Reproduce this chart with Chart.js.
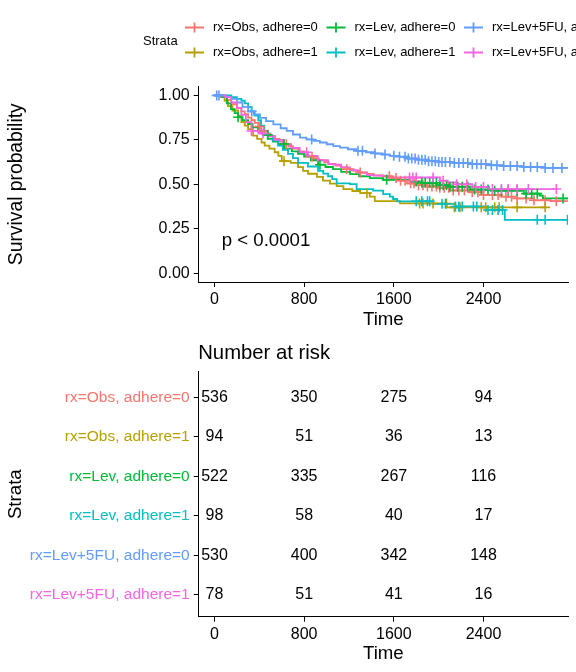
<!DOCTYPE html>
<html><head><meta charset="utf-8">
<script src="https://cdn.jsdelivr.net/npm/chart.js@4"></script>
<style>
html,body{margin:0;padding:0;background:#fff;overflow:hidden;width:576px;height:672px}
#top{position:absolute;left:0;top:0;width:576px;height:335px}
#bot{position:absolute;left:0;top:335px;width:576px;height:337px}
</style></head><body>
<div id="top"><canvas id="c1"></canvas></div>
<div id="bot"><canvas id="c2"></canvas></div>
<script>
// ---------- data ----------
const strata = ['rx=Obs, adhere=0','rx=Obs, adhere=1','rx=Lev, adhere=0','rx=Lev, adhere=1','rx=Lev+5FU, adhere=0','rx=Lev+5FU, adhere=1'];
const colors = ['#F8766D','#B79F00','#00BA38','#00BFC4','#619CFF','#F564E3'];

const obs0Time = [0,60,110,150,200,240,270,300,330,360,390,415,450,500,540,580,620,660,700,750,800,840,880,930,980,1020,1080,1130,1180,1240,1300,1360,1420,1500,1580,1660,1720,1800,1900,1990,2100,2280,2400,2550,2700,2850,3000];
const obs0Surv = [1,0.99,0.975,0.95,0.93,0.91,0.895,0.875,0.86,0.845,0.825,0.80,0.785,0.77,0.755,0.74,0.725,0.715,0.70,0.685,0.665,0.655,0.645,0.635,0.625,0.615,0.605,0.595,0.585,0.575,0.566,0.558,0.55,0.545,0.535,0.52,0.505,0.495,0.488,0.48,0.465,0.455,0.44,0.43,0.42,0.41,0.405];
const obs0Cens = [400,440,640,870,1180,1300,1560,1620,1660,1700,1750,1780,1820,1860,1900,1940,1980,2010,2050,2090,2130,2180,2230,2300,2350,2400,2480,2530,2600,2650,2700,2780,2850,2950,3050];
const obs0End = 3329;

const obs1Time = [0,60,90,120,160,210,240,270,300,344,380,420,448,490,537,570,600,680,745,790,834,914,968,1030,1090,1150,1230,1300,1385,1430,1655,2072];
const obs1Surv = [1,0.99,0.97,0.94,0.915,0.886,0.85,0.83,0.81,0.774,0.755,0.735,0.717,0.70,0.68,0.66,0.63,0.62,0.596,0.575,0.559,0.542,0.52,0.503,0.49,0.473,0.462,0.45,0.43,0.405,0.392,0.37];
const obs1Cens = [620,1360,1830,1860,1950,2070,2140,2190,2380,2420,2500,2540,2700,2950];
const obs1End = 2950;

const lev0Time = [0,70,110,147,180,210,250,300,340,388,430,477,520,567,626,690,745,800,860,924,990,1057,1130,1209,1290,1387,1506,1745,1850,1982,2072,2280,2500,2760,2900,2930];
const lev0Surv = [1,0.99,0.955,0.923,0.90,0.877,0.86,0.839,0.82,0.80,0.778,0.755,0.74,0.727,0.70,0.685,0.671,0.655,0.635,0.61,0.597,0.585,0.57,0.557,0.545,0.535,0.525,0.515,0.508,0.495,0.486,0.47,0.464,0.447,0.436,0.42];
const lev0Cens = [210,474,620,941,1536,1800,1850,1880,1920,1950,1980,2010,2040,2070,2100,2130,2170,2210,2260,2320,2380,2440,2500,2560,2620,2700,2780,2830,2880,3110];
const lev0End = 3329;

const lev1Time = [0,150,200,240,270,300,330,358,390,415,445,477,520,567,610,656,700,745,834,924,970,1013,1050,1090,1209,1268,1415,1505,1565,1593,1630,1950,2150,2420,2590];
const lev1Surv = [1,0.99,0.98,0.97,0.955,0.934,0.91,0.886,0.86,0.83,0.80,0.774,0.745,0.717,0.694,0.671,0.647,0.62,0.60,0.575,0.56,0.545,0.529,0.505,0.501,0.473,0.464,0.445,0.43,0.417,0.404,0.39,0.375,0.355,0.30];
const lev1Cens = [1800,1850,1900,1920,2030,2060,2150,2180,2210,2310,2340,2440,2480,2530,2570,2880,2950,3150];
const lev1End = 3329;

const fu0Time = [0,100,150,200,250,300,350,406,460,525,590,644,700,763,820,882,940,1001,1060,1120,1190,1268,1350,1430,1500,1566,1650,1720,1800,1900,2000,2130,2300,2450,2574,2750,2950];
const fu0Surv = [1,0.99,0.98,0.96,0.935,0.91,0.893,0.874,0.855,0.837,0.815,0.80,0.78,0.762,0.752,0.744,0.735,0.725,0.715,0.706,0.697,0.688,0.68,0.673,0.667,0.66,0.655,0.645,0.638,0.63,0.625,0.62,0.613,0.607,0.602,0.597,0.592];
const fu0Cens = [20,40,332,867,1280,1320,1432,1521,1600,1650,1700,1730,1760,1790,1820,1850,1880,1910,1940,1970,2000,2030,2060,2100,2140,2180,2220,2260,2300,2340,2380,2420,2470,2520,2580,2640,2700,2760,2820,2880,2950,3020,3100];
const fu0End = 3329;

const fu1Time = [0,95,150,200,240,280,330,388,433,480,537,610,683,760,834,920,1013,1057,1130,1209,1280,1358,1420,1536,2012,2080,2160,2300,2450];
const fu1Surv = [1,0.99,0.96,0.93,0.89,0.85,0.80,0.79,0.785,0.77,0.75,0.725,0.705,0.68,0.66,0.635,0.615,0.61,0.595,0.58,0.565,0.551,0.548,0.538,0.52,0.51,0.50,0.485,0.473];
const fu1Cens = [330,433,822,1740,1770,1800,1950,2040,2160,2250,2330,2400,2480,2560,2620,2700,2800,3050];
const fu1End = 3056;

const xTicks = [0,800,1600,2400,3200];
const yTicks = [0,0.25,0.5,0.75,1];
const riskTimes = [0,800,1600,2400,3200];
const riskObs0 = [536,350,275,94,1];
const riskObs1 = [94,51,36,13,0];
const riskLev0 = [522,335,267,116,2];
const riskLev1 = [98,58,40,17,2];
const riskFu0 = [530,400,342,148,0];
const riskFu1 = [78,51,41,16,0];
const pText = 'p < 0.0001';

// ---------- helpers ----------
const FONT = '"Liberation Sans", Arial, sans-serif';
Chart.defaults.font.family = FONT;
Chart.defaults.color = '#000';
const curves = [
  [obs0Time,obs0Surv,obs0Cens,obs0End],
  [obs1Time,obs1Surv,obs1Cens,obs1End],
  [lev0Time,lev0Surv,lev0Cens,lev0End],
  [lev1Time,lev1Surv,lev1Cens,lev1End],
  [fu0Time,fu0Surv,fu0Cens,fu0End],
  [fu1Time,fu1Surv,fu1Cens,fu1End]
];
const riskRows = [riskObs0,riskObs1,riskLev0,riskLev1,riskFu0,riskFu1];
function survAt(times, surv, t){ let v = surv[0]; for(let i=0;i<times.length;i++){ if(times[i]<=t) v = surv[i]; } return v; }

const datasets = [];
curves.forEach(([tm,sv,cs,end],i)=>{
  const pts = tm.map((t,k)=>({x:t,y:sv[k]}));
  pts.push({x:end,y:sv[sv.length-1]});
  datasets.push({data:pts, showLine:true, stepped:true, borderColor:colors[i], borderWidth:1.8, pointRadius:0, fill:false, order:100-i});
  datasets.push({data:cs.map(t=>({x:t,y:survAt(tm,sv,t)})), showLine:false, pointStyle:'cross', pointRadius:5, pointBorderWidth:1.6, borderColor:colors[i], pointBorderColor:colors[i], order:50-i});
});

const XMIN = -141, XMAX = 3154;
function xScale(extra){
  return Object.assign({
    type:'linear', min:XMIN, max:XMAX,
    afterBuildTicks:s=>{ s.ticks = xTicks.filter(v=>v>=XMIN&&v<=XMAX).map(v=>({value:v})); },
    ticks:{font:{size:16}, color:'#000', padding:3, maxRotation:0, autoSkip:false, callback:v=>String(v)},
    grid:{drawOnChartArea:false, drawTicks:true, tickLength:5, color:'#000', lineWidth:1},
    border:{display:true, color:'#000', width:1}
  }, extra);
}

const topPlugin = {
  id:'topText',
  afterDraw(chart){
    const ctx = chart.ctx;
    ctx.save();
    // legend
    ctx.textBaseline = 'middle';
    ctx.fillStyle = '#000';
    ctx.font = '13px ' + FONT;
    ctx.fillText('Strata', 143, 41);
    const colX = [185, 326.5, 464];
    const rowY = [27.5, 52.5];
    strata.forEach((name,i)=>{
      const x = colX[Math.floor(i/2)], y = rowY[i%2];
      ctx.strokeStyle = colors[i]; ctx.lineWidth = 1.8;
      ctx.beginPath(); ctx.moveTo(x,y); ctx.lineTo(x+19,y);
      ctx.moveTo(x+9.5,y-5); ctx.lineTo(x+9.5,y+5); ctx.stroke();
      ctx.fillStyle = '#000';
      ctx.fillText(name, x+28, y);
    });
    // p-value
    const xs = chart.scales.x, ys = chart.scales.y;
    ctx.font = '18.67px ' + FONT;
    ctx.fillText(pText, xs.getPixelForValue(64), ys.getPixelForValue(0.183));
    ctx.restore();
  }
};

new Chart(document.getElementById('c1'), {
  type:'scatter',
  data:{datasets},
  options:{
    responsive:true, maintainAspectRatio:false, animation:false,
    layout:{padding:{left:0,right:8,top:86.5,bottom:0}},
    plugins:{legend:{display:false}, tooltip:{enabled:false}},
    scales:{
      x: xScale({
        title:{display:true, text:'Time', color:'#000', font:{size:18.67}, padding:{top:0,bottom:4}},
        afterFit:s=>{ s.height = 53; }
      }),
      y:{
        type:'linear', min:-0.05, max:1.05,
        afterBuildTicks:s=>{ s.ticks = yTicks.map(v=>({value:v})); },
        ticks:{font:{size:16}, color:'#000', padding:4, callback:v=>Number(v).toFixed(2)},
        grid:{drawOnChartArea:false, drawTicks:true, tickLength:5, color:'#000'},
        border:{display:true, color:'#000', width:1},
        title:{display:true, text:'Survival probability', color:'#000', font:{size:19.3}, padding:{top:5.5,bottom:0}},
        afterFit:s=>{ s.width = 198.7; }
      }
    }
  },
  plugins:[topPlugin]
});

// ---------- risk table ----------
const riskSets = riskRows.map((row,i)=>({
  data: riskTimes.map((t,j)=>({x:t, y:i+1, n:row[j]})),
  showLine:false, pointRadius:0, pointHoverRadius:0
}));
const tablePlugin = {
  id:'tableText',
  afterDatasetsDraw(chart){
    const ctx = chart.ctx, a = chart.chartArea;
    ctx.save();
    ctx.beginPath(); ctx.rect(a.left, a.top-20, a.right-a.left, a.bottom-a.top+20); ctx.clip();
    ctx.font = '16px ' + FONT; ctx.fillStyle = '#000';
    ctx.textAlign = 'center'; ctx.textBaseline = 'middle';
    chart.data.datasets.forEach((ds,i)=>{
      const meta = chart.getDatasetMeta(i);
      meta.data.forEach((el,j)=>{ ctx.fillText(String(ds.data[j].n), el.x, el.y); });
    });
    ctx.restore();
    ctx.save();
    ctx.font = '20.3px ' + FONT; ctx.fillStyle = '#000';
    ctx.textBaseline = 'middle'; ctx.textAlign = 'left';
    ctx.fillText('Number at risk', a.left - 0.5, 18);
    ctx.restore();
  }
};
new Chart(document.getElementById('c2'), {
  type:'scatter',
  data:{datasets:riskSets},
  options:{
    responsive:true, maintainAspectRatio:false, animation:false,
    layout:{padding:{left:0,right:8,top:36.7,bottom:0}},
    plugins:{legend:{display:false}, tooltip:{enabled:false}},
    scales:{
      x: xScale({
        title:{display:true, text:'Time', color:'#000', font:{size:18.67}, padding:{top:0,bottom:6.5}},
        afterFit:s=>{ s.height = 55.3; }
      }),
      y:{
        type:'linear', min:0.353, max:6.549, reverse:true,
        afterBuildTicks:s=>{ s.ticks = strata.map((n,i)=>({value:i+1})); },
        ticks:{font:{size:15.5}, padding:4, color:c=>colors[c.index], callback:(v,i)=>strata[i]},
        grid:{drawOnChartArea:false, drawTicks:true, tickLength:5, color:'#000'},
        border:{display:true, color:'#000', width:1},
        title:{display:true, text:'Strata', color:'#000', font:{size:18.67}, padding:{top:5,bottom:0}},
        afterFit:s=>{ s.width = 198.7; }
      }
    }
  },
  plugins:[tablePlugin]
});
</script>
</body></html>
